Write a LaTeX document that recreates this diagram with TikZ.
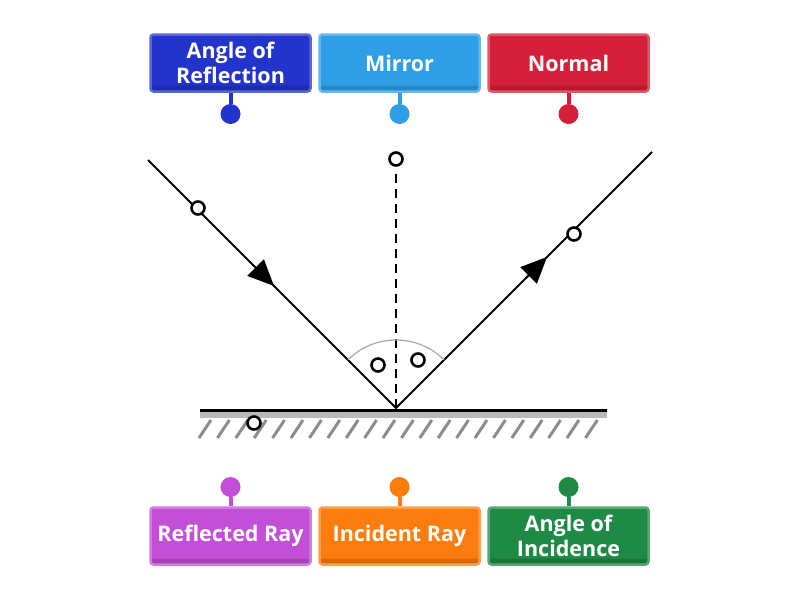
\documentclass[tikz,border=0pt]{standalone}
\usepackage{fontspec}
\setmainfont{Open Sans}
\usetikzlibrary{arrows.meta}

\definecolor{cRefl}{HTML}{2334CC}
\definecolor{cMirror}{HTML}{2E9FE6}
\definecolor{cNormal}{HTML}{D61F38}
\definecolor{cRay}{HTML}{C24FD6}
\definecolor{cInc}{HTML}{FD7C0E}
\definecolor{cAngInc}{HTML}{1F8A46}

\tikzset{
  tag/.style={rounded corners=3pt, minimum width=160pt, minimum height=57pt,
    inner sep=0pt, align=center, text=white, fill=#1, draw=#1!75!white,
    line width=2.5pt, font=\fontsize{21.5}{25}\selectfont\bfseries,
    path picture={\fill[black, opacity=0.15] (path picture bounding box.south west)
      rectangle ([yshift=6pt]path picture bounding box.south east);}},
  pin/.style={circle, minimum size=20pt, inner sep=0pt, fill=#1},
  stem/.style={#1, line width=4pt},
  marker/.style={circle, draw=black, fill=white, line width=2.6pt,
    minimum size=13pt, inner sep=0pt},
  ray/.style={line width=2pt},
  tip/.style={-{Triangle[length=26pt,width=23pt]}, line width=2pt}
}

\begin{document}
\begin{tikzpicture}[x=1pt,y=-1pt]
\useasboundingbox (0,0) rectangle (800,600);

% Espejo
\fill[gray!55] (200,410) rectangle (607,418);
\draw[line width=3pt] (200,410) -- (607,410);
\foreach \i in {0,...,21}
  \draw[gray!90, line width=3pt] ({199+\i*18.4},438) -- ({211+\i*18.4},420);

% Rayos
\coordinate (hit) at (396,408);
\coordinate (inStart) at (148,160);
\coordinate (outEnd) at (652,152);
\coordinate (inTail) at (256,268);
\coordinate (inTip) at (274,286);
\coordinate (outTail) at (526,278);
\coordinate (outTip) at (547,257);
\draw[ray] (inStart) -- (hit) -- (outEnd);
\draw[tip] (inTail) -- (inTip);
\draw[tip] (outTail) -- (outTip);

% Normal y angulos
\node[marker] (mNormal) at (396,159) {};
\draw[line width=1.5pt, dash pattern=on 9pt off 6pt, shorten >=5pt] (hit) -- (mNormal.south);
\draw[gray!70, line width=1.2pt] (hit) ++(-45:68) arc[start angle=-45, end angle=-135, radius=68];

% Marcadores
\node[marker] (mInc) at (198,208) {};
\node[marker] (mOut) at (574,234) {};
\node[marker] (mAngL) at (378,365) {};
\node[marker] (mAngR) at (418,360) {};
\node[marker] (mMirror) at (254,423) {};

% Etiquetas de arriba
\node[tag=cRefl] (boxRefl) at (230.5,63) {Angle of\\Reflection};
\node[tag=cMirror] (boxMirror) at (399.5,63) {Mirror};
\node[tag=cNormal] (boxNormal) at (568.5,63) {Normal};
\node[pin=cRefl] (dotRefl) at (230.5,114) {};
\node[pin=cMirror] (dotMirror) at (399.5,114) {};
\node[pin=cNormal] (dotNormal) at (568.5,114) {};
\draw[stem=cRefl] (boxRefl.south) -- (dotRefl);
\draw[stem=cMirror] (boxMirror.south) -- (dotMirror);
\draw[stem=cNormal] (boxNormal.south) -- (dotNormal);

% Etiquetas de abajo
\node[tag=cRay] (boxRay) at (230.5,536) {Reflected Ray};
\node[tag=cInc] (boxInc) at (399.5,536) {Incident Ray};
\node[tag=cAngInc] (boxAngInc) at (568.5,536) {Angle of\\Incidence};
\node[pin=cRay] (dotRay) at (230.5,487) {};
\node[pin=cInc] (dotInc) at (399.5,487) {};
\node[pin=cAngInc] (dotAngInc) at (568.5,487) {};
\draw[stem=cRay] (dotRay) -- (boxRay.north);
\draw[stem=cInc] (dotInc) -- (boxInc.north);
\draw[stem=cAngInc] (dotAngInc) -- (boxAngInc.north);
\end{tikzpicture}
\end{document}
